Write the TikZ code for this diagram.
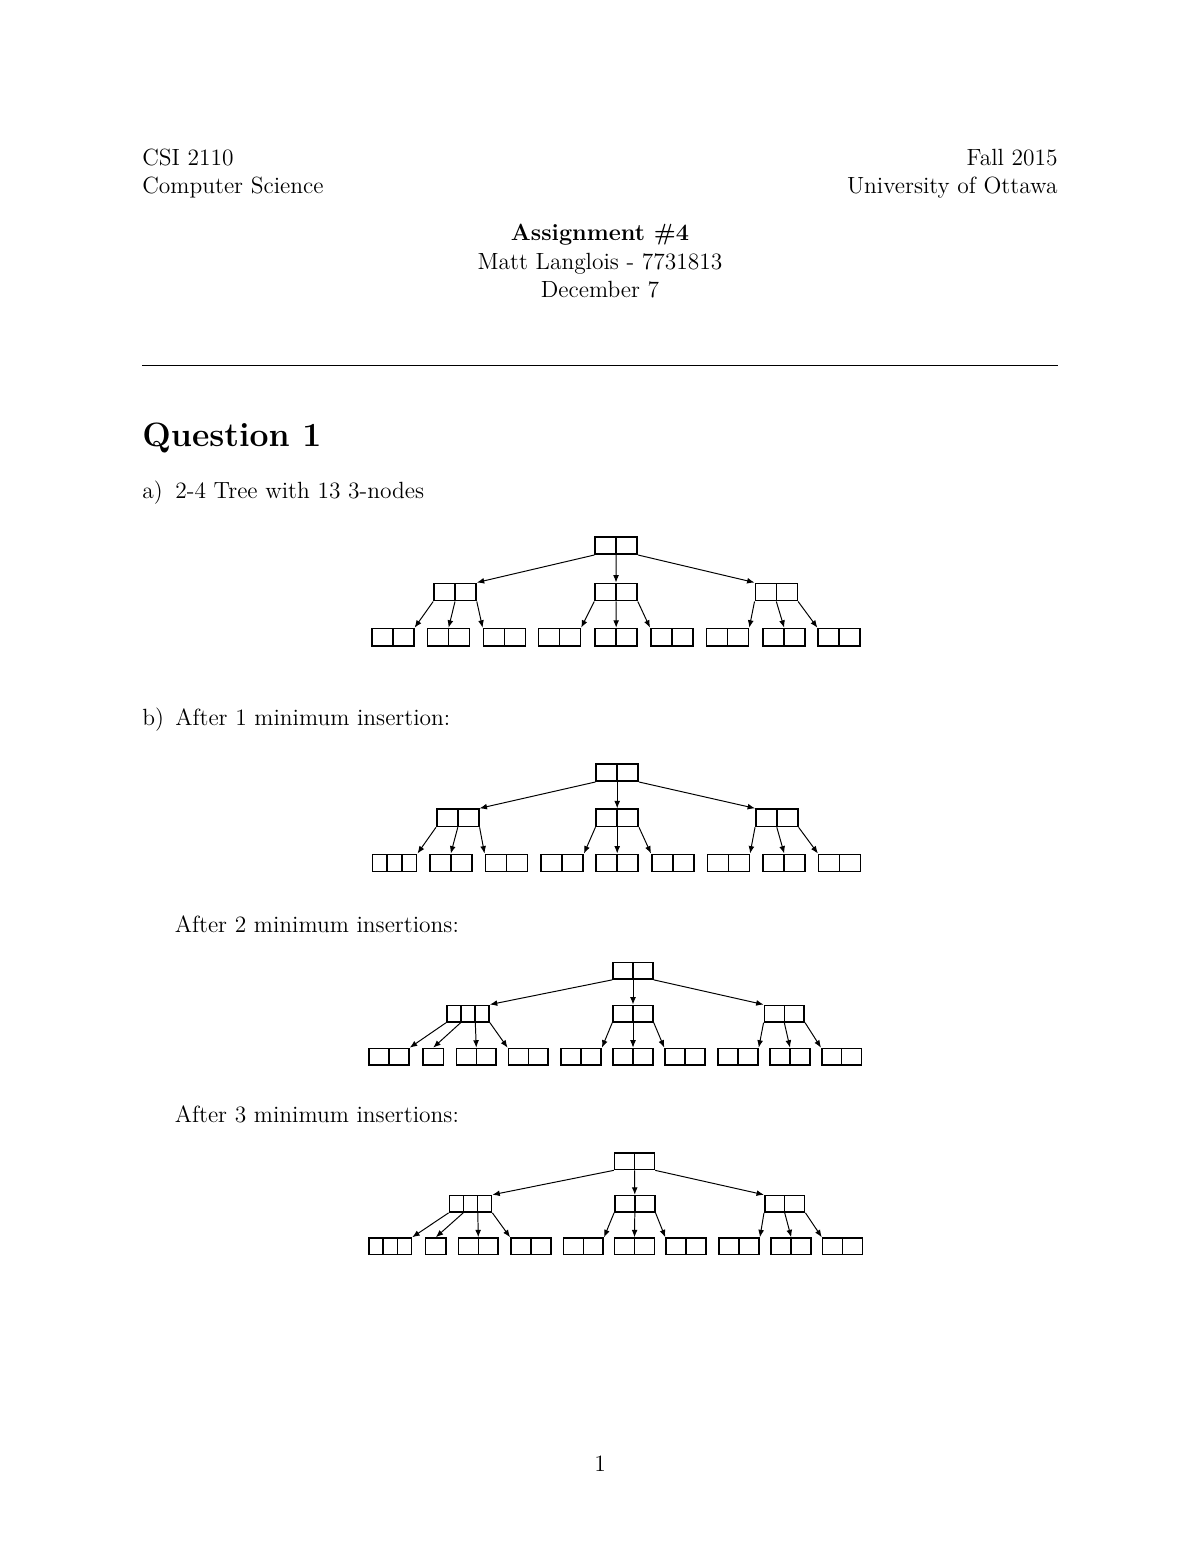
\documentclass[tikz,border=0pt]{standalone}
\usetikzlibrary{calc,arrows.meta}

\newcommand{\px}{0.0179917cm}
\newcommand{\ks}{1}
\tikzset{
  keybox/.style={draw, thick, inner sep=0pt, minimum height=17.4*\ks*\px},
  k1/.style={keybox, minimum width=21.5*\ks*\px},
  k2/.style={keybox, minimum width=42*\ks*\px,
    path picture={\draw[thick] (path picture bounding box.north) -- (path picture bounding box.south);}},
  k3/.style={keybox, minimum width=44.4*\ks*\px,
    path picture={\draw[thick]
      ($(path picture bounding box.north west)!1/3!(path picture bounding box.north east)$) --
      ($(path picture bounding box.south west)!1/3!(path picture bounding box.south east)$)
      ($(path picture bounding box.north west)!2/3!(path picture bounding box.north east)$) --
      ($(path picture bounding box.south west)!2/3!(path picture bounding box.south east)$);}},
  ptr/.style={every edge/.append style={->, line width=0.5pt}},
  txt/.style={inner sep=0pt, anchor=base west},
}
\newcommand{\kone}{\node[k1]}
\newcommand{\ktwo}{\node[k2]}
\newcommand{\kthree}{\node[k3]}

\begin{document}
\begin{tikzpicture}[x=\px, y=-\px, >={Latex[length=3.8pt, width=3pt]}, font=\fontsize{12}{14.5}\selectfont]
    \path[use as bounding box, fill=white] (0,0) rectangle (1200,1553);

    % heading
    \node[txt] (crs) at (142,165.5) {CSI 2110};
    \node[txt] (dep) at (142,193.8) {Computer Science};
    \node[txt, anchor=base east] (term) at (1058,165.5) {Fall 2015};
    \node[txt, anchor=base east] (uni) at (1058,193.8) {University of Ottawa};
    \node[txt, anchor=base] (ttl) at (600,241) {\bfseries Assignment \#4};
    \node[txt, anchor=base] (auth) at (600,269.3) {Matt Langlois - 7731813};
    \node[txt, anchor=base] (date) at (600,297.3) {December 7};
    \draw[line width=0.6pt] (142,365.5) -- (1058,365.5);
    \node[txt, font=\fontsize{17.28}{21}\selectfont\bfseries] (sec) at (142,446.7) {Question 1};
    \node[txt] (la) at (142,498.3) {a)};
    \node[txt] (ta) at (175,498.3) {2-4 Tree with 13 3-nodes};
    \node[txt] (lb) at (142,725.7) {b)};
    \node[txt] (tb) at (175,725.7) {After 1 minimum insertion:};
    \node[txt] (tc) at (174.5,932.3) {After 2 minimum insertions:};
    \node[txt] (td) at (174.5,1122) {After 3 minimum insertions:};
    \node[txt, anchor=base] (pg) at (600,1471) {1};

    % a)
    \ktwo (a0) at (616.2,545.5) {};
    \ktwo (a1) at (455,592) {};
    \ktwo (a2) at (616,592) {};
    \ktwo (a3) at (776.3,592) {};
    \ktwo (a4) at (392.8,637.2) {};
    \ktwo (a5) at (448.6,637.2) {};
    \ktwo (a6) at (504.4,637.2) {};
    \ktwo (a7) at (559.4,637.2) {};
    \ktwo (a8) at (616.2,637.2) {};
    \ktwo (a9) at (671.8,637.2) {};
    \ktwo (a10) at (727.5,637.2) {};
    \ktwo (a11) at (784.2,637.2) {};
    \ktwo (a12) at (839.2,637.2) {};

    \path[ptr]
        (a0.south west) edge (a1.north east)
        (a0.south) edge (a2.north)
        (a0.south east) edge (a3.north west)
        (a1.south west) edge (a4.north east)
        (a1.south) edge (a5.north)
        (a1.south east) edge (a6.north west)
        (a2.south west) edge (a7.north east)
        (a2.south) edge (a8.north)
        (a2.south east) edge (a9.north west)
        (a3.south west) edge (a10.north east)
        (a3.south) edge (a11.north)
        (a3.south east) edge (a12.north west)
        ;

    % b) one insertion
    \ktwo (b0) at (617.2,772.5) {};
    \ktwo (b1) at (457.8,817.8) {};
    \ktwo (b2) at (617.2,817.8) {};
    \ktwo (b3) at (776.8,817.8) {};
    \kthree (b4) at (394.5,863) {};
    \ktwo (b5) at (450.8,863) {};
    \ktwo (b6) at (506.3,863) {};
    \ktwo (b7) at (562.2,863) {};
    \ktwo (b8) at (617.2,863) {};
    \ktwo (b9) at (672.8,863) {};
    \ktwo (b10) at (728.3,863) {};
    \ktwo (b11) at (784.2,863) {};
    \ktwo (b12) at (839.7,863) {};

    \path[ptr]
        (b0.south west) edge (b1.north east)
        (b0.south) edge (b2.north)
        (b0.south east) edge (b3.north west)
        (b1.south west) edge (b4.north east)
        (b1.south) edge (b5.north)
        (b1.south east) edge (b6.north west)
        (b2.south west) edge (b7.north east)
        (b2.south) edge (b8.north)
        (b2.south east) edge (b9.north west)
        (b3.south west) edge (b10.north east)
        (b3.south) edge (b11.north)
        (b3.south east) edge (b12.north west)
        ;

    % two insertions
    \renewcommand{\ks}{0.95}
    \ktwo (c0) at (633,970.8) {};
    \kthree (c1) at (468,1013.6) {};
    \ktwo (c2) at (633,1013.6) {};
    \ktwo (c3) at (784.3,1013.6) {};
    \ktwo (c4) at (389,1056.7) {};
    \kone (c5) at (433.2,1056.7) {};
    \ktwo (c6) at (476.3,1056.7) {};
    \ktwo (c7) at (528.3,1056.7) {};
    \ktwo (c8) at (581.2,1056.7) {};
    \ktwo (c9) at (633,1056.7) {};
    \ktwo (c10) at (685,1056.7) {};
    \ktwo (c11) at (738,1056.7) {};
    \ktwo (c12) at (790,1056.7) {};
    \ktwo (c13) at (841.7,1056.7) {};

    \path[ptr]
        (c0.south west) edge (c1.north east)
        (c0.south) edge (c2.north)
        (c0.south east) edge (c3.north west)
        (c1.south west) edge (c4.north east)
        ($(c1.south west)!1/3!(c1.south east)$) edge (c5.north)
        ($(c1.south west)!2/3!(c1.south east)$) edge (c6.north)
        (c1.south east) edge (c7.north west)
        (c2.south west) edge (c8.north east)
        (c2.south) edge (c9.north)
        (c2.south east) edge (c10.north west)
        (c3.south west) edge (c11.north east)
        (c3.south) edge (c12.north)
        (c3.south east) edge (c13.north west)
        ;

    % three insertions
    \ktwo (d0) at (634.5,1161.3) {};
    \kthree (d1) at (470.5,1203.8) {};
    \ktwo (d2) at (634.8,1203.8) {};
    \ktwo (d3) at (784.7,1203.8) {};
    \kthree (d4) at (390.3,1246.3) {};
    \kone (d5) at (435.8,1246.3) {};
    \ktwo (d6) at (478.3,1246.3) {};
    \ktwo (d7) at (530.8,1246.3) {};
    \ktwo (d8) at (583.3,1246.3) {};
    \ktwo (d9) at (634.5,1246.3) {};
    \ktwo (d10) at (686,1246.3) {};
    \ktwo (d11) at (739.2,1246.3) {};
    \ktwo (d12) at (791.2,1246.3) {};
    \ktwo (d13) at (842.5,1246.3) {};

    \path[ptr]
        (d0.south west) edge (d1.north east)
        (d0.south) edge (d2.north)
        (d0.south east) edge (d3.north west)
        (d1.south west) edge (d4.north east)
        ($(d1.south west)!1/3!(d1.south east)$) edge (d5.north)
        ($(d1.south west)!2/3!(d1.south east)$) edge (d6.north)
        (d1.south east) edge (d7.north west)
        (d2.south west) edge (d8.north east)
        (d2.south) edge (d9.north)
        (d2.south east) edge (d10.north west)
        (d3.south west) edge (d11.north east)
        (d3.south) edge (d12.north)
        (d3.south east) edge (d13.north west)
        ;

\end{tikzpicture}
\end{document}
